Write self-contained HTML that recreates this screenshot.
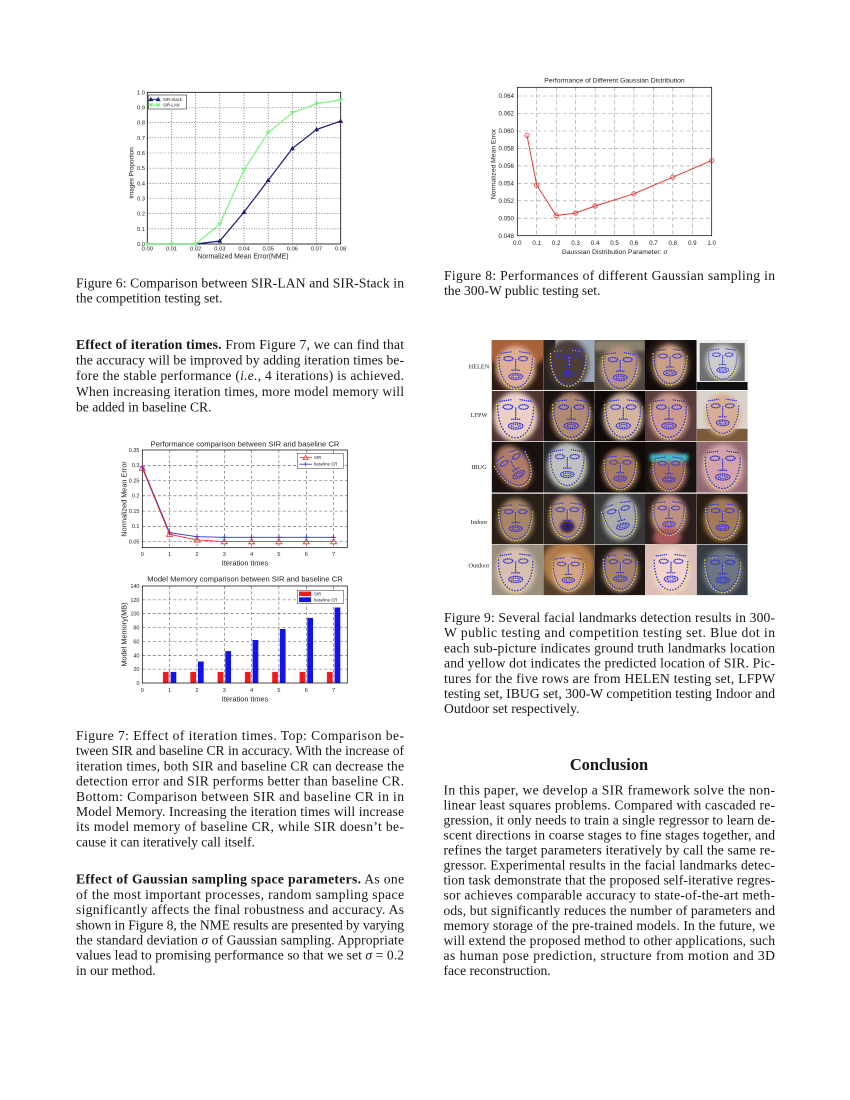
<!DOCTYPE html>
<html><head><meta charset="utf-8">
<style>
html,body{margin:0;padding:0;background:#fff;}
body{width:850px;height:1100px;overflow:hidden;position:relative;}
svg.page{position:absolute;left:0;top:0;}
.t{font-family:"Liberation Serif",serif;font-size:13.6px;fill:#161616;}
.s{font-family:"Liberation Sans",sans-serif;fill:#222;}
.rl{font-family:"Liberation Serif",serif;font-size:6.3px;fill:#222;}
</style></head><body>
<svg class="page" width="850" height="1100" viewBox="0 0 850 1100">
<defs>
  <path id="tu" d="M0,-2.6 L2.5,1.8 L-2.5,1.8Z"/>
  <path id="td" d="M0,2.6 L2.5,-1.8 L-2.5,-1.8Z"/>
  <filter id="bl" x="-60%" y="-60%" width="220%" height="220%"><feGaussianBlur stdDeviation="2.4"/></filter>
  <filter id="bl2" x="-60%" y="-60%" width="220%" height="220%"><feGaussianBlur stdDeviation="1.6"/></filter>
  <g id="lm" fill="none" stroke-linecap="round">
    <path d="M-17,-9 C-17,12 -9,22 0,22 C9,22 17,12 17,-9" stroke="#e6e040" stroke-width="1.4" stroke-dasharray="0.1 2.8"/>
    <path d="M-16,-8 C-16,11 -8,20.5 0,20.5 C8,20.5 16,11 16,-8" stroke="#3030d8" stroke-width="1.4" stroke-dasharray="0.1 2.6"/>
    <path d="M-14,-12 L-4,-13.5 M4,-13.5 L14,-12" stroke="#3030d8" stroke-width="1.3" stroke-dasharray="0.1 1.8"/>
    <ellipse cx="-7" cy="-7" rx="4.3" ry="2" stroke="#3030d8" stroke-width="1.3" stroke-dasharray="0.1 1.5"/>
    <ellipse cx="7" cy="-7" rx="4.3" ry="2" stroke="#3030d8" stroke-width="1.3" stroke-dasharray="0.1 1.5"/>
    <path d="M0,-6 V3 M-3.5,4 H3.5" stroke="#3030d8" stroke-width="1.3" stroke-dasharray="0.1 1.6"/>
    <ellipse cx="0" cy="10" rx="6.5" ry="2.8" stroke="#3030d8" stroke-width="1.3" stroke-dasharray="0.1 1.5"/>
    <ellipse cx="0" cy="10" rx="4" ry="1.2" stroke="#3030d8" stroke-width="1.1" stroke-dasharray="0.1 1.5"/>
    <path d="M-13,-11 L-4,-12 M4,-12 L13,-11" stroke="#e6e040" stroke-width="1" stroke-dasharray="0.1 3"/>
    <path d="M1,-5 V2" stroke="#e6e040" stroke-width="1" stroke-dasharray="0.1 3"/>
  </g>
</defs>

<!-- ============ FIGURE 6 ============ -->
<g stroke="#444" stroke-width="0.6" stroke-dasharray="1,1.6">
  <path d="M171.5,92.3V244M195.7,92.3V244M219.8,92.3V244M244,92.3V244M268.2,92.3V244M292.4,92.3V244M316.5,92.3V244"/>
  <path d="M147.3,228.8H340.7M147.3,213.7H340.7M147.3,198.5H340.7M147.3,183.3H340.7M147.3,168.2H340.7M147.3,153H340.7M147.3,137.8H340.7M147.3,122.6H340.7M147.3,107.5H340.7"/>
</g>
<rect x="147.3" y="92.3" width="193.4" height="151.7" fill="none" stroke="#000" stroke-width="0.8"/>
<polyline fill="none" stroke="#1b1b78" stroke-width="1.2" points="147.3,244 171.5,244 195.7,244 219.8,241 244,212.1 268.2,180.3 292.4,148.4 316.5,129.5 340.7,121.1"/>
<g fill="#1b1b78">
  <use href="#tu" x="219.8" y="241"/><use href="#tu" x="244" y="212.1"/><use href="#tu" x="268.2" y="180.3"/><use href="#tu" x="292.4" y="148.4"/><use href="#tu" x="316.5" y="129.5"/><use href="#tu" x="340.7" y="121.1"/>
</g>
<polyline fill="none" stroke="#7ff07f" stroke-width="1.2" points="147.3,244 171.5,244 195.7,244 219.8,224.3 244,169.7 268.2,132.5 292.4,112.8 316.5,103.7 340.7,99.9"/>
<g fill="#7ff07f">
  <use href="#td" x="147.3" y="244"/><use href="#td" x="171.5" y="244"/><use href="#td" x="195.7" y="244"/><use href="#td" x="219.8" y="224.3"/><use href="#td" x="244" y="169.7"/><use href="#td" x="268.2" y="132.5"/><use href="#td" x="292.4" y="112.8"/><use href="#td" x="316.5" y="103.7"/><use href="#td" x="340.7" y="99.9"/>
</g>
<g class="s" font-size="5.8" text-anchor="end">
  <text x="145" y="246">0.0</text><text x="145" y="230.8">0.1</text><text x="145" y="215.7">0.2</text><text x="145" y="200.5">0.3</text><text x="145" y="185.3">0.4</text><text x="145" y="170.2">0.5</text><text x="145" y="155">0.6</text><text x="145" y="139.8">0.7</text><text x="145" y="124.6">0.8</text><text x="145" y="109.5">0.9</text><text x="145" y="94.3">1.0</text>
</g>
<g class="s" font-size="5.8" text-anchor="middle">
  <text x="147.3" y="250.5">0.00</text><text x="171.5" y="250.5">0.01</text><text x="195.7" y="250.5">0.02</text><text x="219.8" y="250.5">0.03</text><text x="244" y="250.5">0.04</text><text x="268.2" y="250.5">0.05</text><text x="292.4" y="250.5">0.06</text><text x="316.5" y="250.5">0.07</text><text x="340.7" y="250.5">0.08</text>
</g>
<text class="s" font-size="6.9" x="243" y="258.5" text-anchor="middle">Normalized Mean Error(NME)</text>
<text class="s" font-size="6.3" text-anchor="middle" transform="translate(133.5,173) rotate(-90)">Images Proportion</text>
<rect x="148.3" y="95" width="38.4" height="14" fill="#fff" stroke="#000" stroke-width="0.5"/>
<line x1="150.5" y1="99.3" x2="158.5" y2="99.3" stroke="#1b1b78" stroke-width="1"/>
<g fill="#1b1b78"><use href="#tu" x="150.8" y="99.3"/><use href="#tu" x="158.2" y="99.3"/></g>
<line x1="150.5" y1="105.2" x2="158.5" y2="105.2" stroke="#7ff07f" stroke-width="1"/>
<g fill="#7ff07f"><use href="#td" x="150.8" y="105.2"/><use href="#td" x="158.2" y="105.2"/></g>
<text class="s" font-size="4.2" x="163" y="100.8">SIR-Stack</text>
<text class="s" font-size="4.2" x="163" y="106.7">SIR-LAN</text>

<!-- ============ FIGURE 8 ============ -->
<g stroke="#9a9a9a" stroke-width="0.6" stroke-dasharray="4,2.5">
  <path d="M536.7,87.3V235.7M556.2,87.3V235.7M575.6,87.3V235.7M595.1,87.3V235.7M614.5,87.3V235.7M633.9,87.3V235.7M653.4,87.3V235.7M672.8,87.3V235.7M692.3,87.3V235.7"/>
  <path d="M517.3,218.2H711.7M517.3,200.8H711.7M517.3,183.3H711.7M517.3,165.9H711.7M517.3,148.4H711.7M517.3,131H711.7M517.3,113.5H711.7M517.3,96H711.7"/>
</g>
<rect x="517.3" y="87.3" width="194.4" height="148.4" fill="none" stroke="#000" stroke-width="0.7"/>
<text class="s" font-size="6.8" x="614.5" y="82.5" text-anchor="middle">Performance of Different Gaussian Distribution</text>
<g class="s" font-size="6.2" text-anchor="end">
  <text x="514" y="237.8">0.048</text><text x="514" y="220.3">0.050</text><text x="514" y="202.9">0.052</text><text x="514" y="185.4">0.054</text><text x="514" y="168">0.056</text><text x="514" y="150.5">0.058</text><text x="514" y="133.1">0.060</text><text x="514" y="115.6">0.062</text><text x="514" y="98.1">0.064</text>
</g>
<g class="s" font-size="6.2" text-anchor="middle">
  <text x="517.3" y="245">0.0</text><text x="536.7" y="245">0.1</text><text x="556.2" y="245">0.2</text><text x="575.6" y="245">0.3</text><text x="595.1" y="245">0.4</text><text x="614.5" y="245">0.5</text><text x="633.9" y="245">0.6</text><text x="653.4" y="245">0.7</text><text x="672.8" y="245">0.8</text><text x="692.3" y="245">0.9</text><text x="711.7" y="245">1.0</text>
</g>
<text class="s" font-size="6.8" x="614.5" y="254" text-anchor="middle">Gaussian Distribution Parameter: <tspan font-style="italic">σ</tspan></text>
<text class="s" font-size="6.8" text-anchor="middle" transform="translate(495.5,164) rotate(-90)">Normalized Mean Error</text>
<polyline fill="none" stroke="#e03a3a" stroke-width="1" points="527,135.3 536.7,185.1 556.2,215.6 575.6,213 595.1,206 633.9,193.8 672.8,177.2 711.7,160.6"/>
<g fill="none" stroke="#e03a3a" stroke-width="0.8">
  <circle cx="527" cy="135.3" r="2.2"/><circle cx="536.7" cy="185.1" r="2.2"/><circle cx="556.2" cy="215.6" r="2.2"/><circle cx="575.6" cy="213" r="2.2"/><circle cx="595.1" cy="206" r="2.2"/><circle cx="633.9" cy="193.8" r="2.2"/><circle cx="672.8" cy="177.2" r="2.2"/><circle cx="711.7" cy="160.6" r="2.2"/>
</g>

<!-- ============ FIGURE 7 TOP ============ -->
<g stroke="#555" stroke-width="0.55" stroke-dasharray="3,2.2">
  <path d="M169.6,450V547.7M197,450V547.7M224.3,450V547.7M251.6,450V547.7M278.9,450V547.7M306.3,450V547.7M333.6,450V547.7"/>
  <path d="M142.3,541.6H347.3M142.3,526.3H347.3M142.3,511.1H347.3M142.3,495.8H347.3M142.3,480.5H347.3M142.3,465.3H347.3"/>
</g>
<rect x="142.3" y="450" width="205" height="97.7" fill="none" stroke="#000" stroke-width="0.7"/>
<text class="s" font-size="7.6" x="245" y="446.3" text-anchor="middle">Performance comparison between SIR and baseline CR</text>
<g class="s" font-size="5.5" text-anchor="end">
  <text x="139.5" y="543.5">0.05</text><text x="139.5" y="528.2">0.1</text><text x="139.5" y="513">0.15</text><text x="139.5" y="497.7">0.2</text><text x="139.5" y="482.4">0.25</text><text x="139.5" y="467.2">0.3</text><text x="139.5" y="452">0.35</text>
</g>
<g class="s" font-size="5.5" text-anchor="middle">
  <text x="142.3" y="556">0</text><text x="169.6" y="556">1</text><text x="197" y="556">2</text><text x="224.3" y="556">3</text><text x="251.6" y="556">4</text><text x="278.9" y="556">5</text><text x="306.3" y="556">6</text><text x="333.6" y="556">7</text>
</g>
<text class="s" font-size="7.4" x="245" y="565.5" text-anchor="middle">Iteration times</text>
<text class="s" font-size="7.3" text-anchor="middle" transform="translate(126.5,499) rotate(-90)">Normalized Mean Error</text>
<polyline fill="none" stroke="#2a2ae0" stroke-width="0.9" points="142.3,466.8 169.6,532.7 197,536.7 224.3,537.3 251.6,537.3 278.9,537.3 306.3,537.3 333.6,537.3"/>
<polyline fill="none" stroke="#f03030" stroke-width="0.9" points="142.3,468.3 169.6,534.3 197,539.9 224.3,541.6 251.6,541.6 278.9,541.6 306.3,541.6 333.6,541.6"/>
<g fill="none" stroke="#2a2ae0" stroke-width="0.8">
  <path d="M139.8,466.8h5M142.3,464.3v5 M167.1,532.7h5M169.6,530.2v5 M194.5,536.7h5M197,534.2v5 M221.8,537.3h5M224.3,534.8v5 M249.1,537.3h5M251.6,534.8v5 M276.4,537.3h5M278.9,534.8v5 M303.8,537.3h5M306.3,534.8v5 M331.1,537.3h5M333.6,534.8v5"/>
</g>
<g fill="none" stroke="#f03030" stroke-width="0.8">
  <path d="M142.3,465.3l3,5.2h-6z M169.6,531.3l3,5.2h-6z M197,536.9l3,5.2h-6z M224.3,538.6l3,5.2h-6z M251.6,538.6l3,5.2h-6z M278.9,538.6l3,5.2h-6z M306.3,538.6l3,5.2h-6z M333.6,538.6l3,5.2h-6z"/>
</g>
<rect x="297.3" y="453.3" width="46" height="15" fill="#fff" stroke="#333" stroke-width="0.5"/>
<line x1="299.5" y1="457.7" x2="312" y2="457.7" stroke="#f03030" stroke-width="0.8"/>
<path d="M305.7,455.2l2.6,4.4h-5.2z" fill="none" stroke="#f03030" stroke-width="0.7"/>
<line x1="299.5" y1="464.2" x2="312" y2="464.2" stroke="#2a2ae0" stroke-width="0.8"/>
<path d="M303.5,464.2h4.4M305.7,462v4.4" stroke="#2a2ae0" stroke-width="0.7"/>
<text class="s" font-size="4.3" x="314" y="459.2">SIR</text>
<text class="s" font-size="4.3" x="314" y="465.7">baseline CR</text>

<!-- ============ FIGURE 7 BOTTOM ============ -->
<g stroke="#555" stroke-width="0.55" stroke-dasharray="3,2.2">
  <path d="M169.6,586V683M197,586V683M224.3,586V683M251.6,586V683M278.9,586V683M306.3,586V683M333.6,586V683"/>
  <path d="M142.3,669.1H347.3M142.3,655.3H347.3M142.3,641.4H347.3M142.3,627.6H347.3M142.3,613.7H347.3M142.3,599.9H347.3"/>
</g>
<g fill="#ee1c1c">
  <rect x="162.9" y="671.9" width="5.7" height="11.1"/><rect x="190.3" y="671.9" width="5.7" height="11.1"/><rect x="217.6" y="671.9" width="5.7" height="11.1"/><rect x="244.9" y="671.9" width="5.7" height="11.1"/><rect x="272.2" y="671.9" width="5.7" height="11.1"/><rect x="299.6" y="671.9" width="5.7" height="11.1"/><rect x="326.9" y="671.9" width="5.7" height="11.1"/>
</g>
<g fill="#1414e6">
  <rect x="170.6" y="671.9" width="5.7" height="11.1"/><rect x="198" y="661.5" width="5.7" height="21.5"/><rect x="225.3" y="651.1" width="5.7" height="31.9"/><rect x="252.6" y="640" width="5.7" height="43"/><rect x="279.9" y="629" width="5.7" height="54"/><rect x="307.3" y="617.9" width="5.7" height="65.1"/><rect x="334.6" y="607.5" width="5.7" height="75.5"/>
</g>
<rect x="142.3" y="586" width="205" height="97" fill="none" stroke="#000" stroke-width="0.7"/>
<text class="s" font-size="7.6" x="245" y="581.5" text-anchor="middle">Model Memory comparison between SIR and baseline CR</text>
<g class="s" font-size="5.5" text-anchor="end">
  <text x="139.5" y="685">0</text><text x="139.5" y="671.1">20</text><text x="139.5" y="657.3">40</text><text x="139.5" y="643.4">60</text><text x="139.5" y="629.6">80</text><text x="139.5" y="615.7">100</text><text x="139.5" y="601.9">120</text><text x="139.5" y="588">140</text>
</g>
<g class="s" font-size="5.5" text-anchor="middle">
  <text x="142.3" y="692">0</text><text x="169.6" y="692">1</text><text x="197" y="692">2</text><text x="224.3" y="692">3</text><text x="251.6" y="692">4</text><text x="278.9" y="692">5</text><text x="306.3" y="692">6</text><text x="333.6" y="692">7</text>
</g>
<text class="s" font-size="7.4" x="245" y="701.5" text-anchor="middle">Iteration times</text>
<text class="s" font-size="7.3" text-anchor="middle" transform="translate(126.5,634.5) rotate(-90)">Model Memory(MB)</text>
<rect x="297.3" y="590.3" width="46" height="13.4" fill="#fff" stroke="#333" stroke-width="0.5"/>
<rect x="299" y="591.5" width="12" height="4.6" fill="#ee1c1c"/>
<rect x="299" y="597.3" width="12" height="4.8" fill="#1414e6"/>
<text class="s" font-size="4.3" x="314" y="595.5">SIR</text>
<text class="s" font-size="4.3" x="314" y="601.6">baseline CR</text>

<!-- ============ FIGURE 9 FACES ============ -->
<g>
<!-- Row 1 -->
<svg x="491.7" y="340" width="51.6" height="50">
  <rect width="100%" height="100%" fill="#2e1a12"/>
  <ellipse cx="25" cy="6" rx="34" ry="22" fill="#a8623a" filter="url(#bl)"/>
  <ellipse cx="24" cy="28" rx="20" ry="22" fill="#deae96" filter="url(#bl)"/>
  <use href="#lm" transform="translate(24,26) scale(1.05)"/>
</svg>
<svg x="543.3" y="340" width="51" height="50">
  <rect width="100%" height="100%" fill="#9aaabb"/>
  <rect width="12" height="50" fill="#2a2220"/>
  <rect y="42" width="51" height="8" fill="#2a2420"/>
  <ellipse cx="25" cy="24" rx="20" ry="25" fill="#4e3c36" filter="url(#bl)"/>
  <use href="#lm" transform="translate(25,23) scale(1.05)"/>
</svg>
<svg x="594.3" y="340" width="50.7" height="50">
  <rect width="100%" height="100%" fill="#4e463e"/>
  <rect width="51" height="11" fill="#8a8070" filter="url(#bl2)"/>
  <ellipse cx="26" cy="28" rx="20" ry="22" fill="#b89480" filter="url(#bl)"/>
  <use href="#lm" transform="translate(26,27) scale(1.05)"/>
</svg>
<svg x="645" y="340" width="51.7" height="50">
  <rect width="100%" height="100%" fill="#100c0c"/>
  <ellipse cx="25" cy="22" rx="22" ry="27" fill="#2a1e18" filter="url(#bl)"/>
  <ellipse cx="25" cy="25" rx="17" ry="21" fill="#caa088" filter="url(#bl)"/>
  <use href="#lm" transform="translate(25,23) scale(1)"/>
</svg>
<svg x="696.7" y="340" width="51" height="50">
  <rect width="100%" height="100%" fill="#eeeeee"/>
  <rect x="3" y="3" width="45" height="38" fill="#6e6e6e"/>
  <ellipse cx="26" cy="22" rx="17" ry="18" fill="#cccccc" filter="url(#bl)"/>
  <rect y="42" width="51" height="8" fill="#111"/>
  <use href="#lm" transform="translate(26,21) scale(0.9)"/>
</svg>
<!-- Row 2 -->
<svg x="491.7" y="390.8" width="51.6" height="50.6">
  <rect width="100%" height="100%" fill="#4e3230"/>
  <ellipse cx="24" cy="26" rx="22" ry="25" fill="#ecd0c8" filter="url(#bl)"/>
  <use href="#lm" transform="translate(24,24) scale(1.12)"/>
</svg>
<svg x="543.3" y="390.8" width="51" height="50.6">
  <rect width="100%" height="100%" fill="#1a1210"/>
  <ellipse cx="28" cy="26" rx="20" ry="24" fill="#b08a72" filter="url(#bl)"/>
  <use href="#lm" transform="translate(28,24) scale(1.1)"/>
</svg>
<svg x="594.3" y="390.8" width="50.7" height="50.6">
  <rect width="100%" height="100%" fill="#0e0a0a"/>
  <ellipse cx="29" cy="26" rx="20" ry="24" fill="#d2b4a0" filter="url(#bl)"/>
  <use href="#lm" transform="translate(29,24) scale(1.1)"/>
</svg>
<svg x="645" y="390.8" width="51.7" height="50.6">
  <rect width="100%" height="100%" fill="#5a3c3c"/>
  <ellipse cx="24" cy="26" rx="20" ry="24" fill="#cc9a8e" filter="url(#bl)"/>
  <use href="#lm" transform="translate(24,24) scale(1.1)"/>
</svg>
<svg x="696.7" y="390.8" width="51" height="50.6">
  <rect width="100%" height="100%" fill="#d8d4cc"/>
  <rect y="38" width="51" height="13" fill="#7a5a38"/>
  <ellipse cx="26" cy="24" rx="18" ry="21" fill="#d8ae96" filter="url(#bl)"/>
  <use href="#lm" transform="translate(26,22) scale(1)"/>
</svg>
<!-- Row 3 -->
<svg x="491.7" y="442" width="51.6" height="50.6">
  <rect width="100%" height="100%" fill="#1a1210"/>
  <ellipse cx="22" cy="25" rx="16" ry="23" fill="#b07c68" transform="rotate(-30 22 25)" filter="url(#bl)"/>
  <use href="#lm" transform="translate(22,24) rotate(-30) scale(1)"/>
</svg>
<svg x="543.3" y="442" width="51" height="50.6">
  <rect width="100%" height="100%" fill="#262626"/>
  <ellipse cx="24" cy="24" rx="20" ry="23" fill="#c0c0c0" filter="url(#bl)"/>
  <use href="#lm" transform="translate(24,22) scale(1.05)"/>
</svg>
<svg x="594.3" y="442" width="50.7" height="50.6">
  <rect width="100%" height="100%" fill="#100b09"/>
  <ellipse cx="26" cy="28" rx="18" ry="21" fill="#a87c60" filter="url(#bl)"/>
  <use href="#lm" transform="translate(26,27) scale(0.95)"/>
</svg>
<svg x="645" y="442" width="51.7" height="50.6">
  <rect width="100%" height="100%" fill="#181210"/>
  <ellipse cx="24" cy="30" rx="18" ry="21" fill="#a87262" filter="url(#bl)"/>
  <rect x="5" y="12" width="38" height="7" fill="#40b8c8" filter="url(#bl2)"/>
  <use href="#lm" transform="translate(24,28) scale(0.95)"/>
</svg>
<svg x="696.7" y="442" width="51" height="50.6">
  <rect width="100%" height="100%" fill="#946a72"/>
  <ellipse cx="26" cy="26" rx="21" ry="24" fill="#d4a4aa" filter="url(#bl)"/>
  <use href="#lm" transform="translate(26,24) scale(1.1)"/>
</svg>
<!-- Row 4 -->
<svg x="491.7" y="493.6" width="51.6" height="50.6">
  <rect width="100%" height="100%" fill="#282016"/>
  <ellipse cx="24" cy="27" rx="18" ry="22" fill="#a88468" filter="url(#bl)"/>
  <use href="#lm" transform="translate(24,25) scale(1)"/>
</svg>
<svg x="543.3" y="493.6" width="51" height="50.6">
  <rect width="100%" height="100%" fill="#2a201c"/>
  <ellipse cx="24" cy="24" rx="18" ry="23" fill="#b4927e" filter="url(#bl)"/>
  <ellipse cx="24" cy="33" rx="7" ry="6" fill="#301818" filter="url(#bl2)"/>
  <use href="#lm" transform="translate(24,23) scale(1)"/>
</svg>
<svg x="594.3" y="493.6" width="50.7" height="50.6">
  <rect width="100%" height="100%" fill="#383838"/>
  <ellipse cx="26" cy="24" rx="18" ry="23" fill="#aaaaaa" filter="url(#bl)"/>
  <use href="#lm" transform="translate(26,23) rotate(-15) scale(1)"/>
</svg>
<svg x="645" y="493.6" width="51.7" height="50.6">
  <rect width="100%" height="100%" fill="#2a1e1e"/>
  <ellipse cx="24" cy="22" rx="18" ry="21" fill="#c09080" filter="url(#bl)"/>
  <ellipse cx="22" cy="44" rx="14" ry="10" fill="#a85858" filter="url(#bl)"/>
  <use href="#lm" transform="translate(24,21) scale(0.95)"/>
</svg>
<svg x="696.7" y="493.6" width="51" height="50.6">
  <rect width="100%" height="100%" fill="#281c12"/>
  <ellipse cx="26" cy="26" rx="19" ry="22" fill="#a47a5a" filter="url(#bl)"/>
  <use href="#lm" transform="translate(26,24) scale(1)"/>
</svg>
<!-- Row 5 -->
<svg x="491.7" y="544.6" width="51.6" height="50.6">
  <rect width="100%" height="100%" fill="#9a8e7e"/>
  <ellipse cx="24" cy="26" rx="20" ry="24" fill="#d8c0b0" filter="url(#bl)"/>
  <use href="#lm" transform="translate(24,24) scale(1.08)"/>
</svg>
<svg x="543.3" y="544.6" width="51" height="50.6">
  <rect width="100%" height="100%" fill="#56402c"/>
  <ellipse cx="25" cy="20" rx="26" ry="24" fill="#b07a48" filter="url(#bl)"/>
  <ellipse cx="25" cy="28" rx="16" ry="20" fill="#d4a684" filter="url(#bl)"/>
  <use href="#lm" transform="translate(25,26) scale(0.95)"/>
</svg>
<svg x="594.3" y="544.6" width="50.7" height="50.6">
  <rect width="100%" height="100%" fill="#1e1612"/>
  <ellipse cx="26" cy="26" rx="18" ry="22" fill="#a88470" filter="url(#bl)"/>
  <use href="#lm" transform="translate(26,24) scale(1)"/>
</svg>
<svg x="645" y="544.6" width="51.7" height="50.6">
  <rect width="100%" height="100%" fill="#dcc0b8"/>
  <ellipse cx="26" cy="26" rx="19" ry="23" fill="#f2d4cc" filter="url(#bl)"/>
  <use href="#lm" transform="translate(26,24) scale(1.05)"/>
</svg>
<svg x="696.7" y="544.6" width="51" height="50.6">
  <rect width="100%" height="100%" fill="#363c44"/>
  <ellipse cx="26" cy="27" rx="20" ry="23" fill="#6e7480" filter="url(#bl)"/>
  <use href="#lm" transform="translate(26,25) scale(1.05)"/>
</svg>
</g>
<g class="rl" text-anchor="middle">
  <text x="479" y="368.5">HELEN</text>
  <text x="479" y="417">LFPW</text>
  <text x="479" y="469">IBUG</text>
  <text x="479" y="524">Indoor</text>
  <text x="479" y="567.5">Outdoor</text>
</g>

<!-- ============ LEFT COLUMN TEXT ============ -->
<g class="t">
<text x="76" y="287.5" textLength="328" lengthAdjust="spacing">Figure 6: Comparison between SIR-LAN and SIR-Stack in</text>
<text x="76" y="302.5">the competition testing set.</text>

<text x="76" y="349" textLength="328" lengthAdjust="spacing"><tspan font-weight="bold">Effect of iteration times.</tspan> From Figure 7, we can find that</text>
<text x="76" y="364.6" textLength="328" lengthAdjust="spacing">the accuracy will be improved by adding iteration times be-</text>
<text x="76" y="380.2" textLength="328" lengthAdjust="spacing">fore the stable performance (<tspan font-style="italic">i.e.</tspan>, 4 iterations) is achieved.</text>
<text x="76" y="395.8" textLength="328" lengthAdjust="spacing">When increasing iteration times, more model memory will</text>
<text x="76" y="411.4">be added in baseline CR.</text>

<text x="76" y="740" textLength="328" lengthAdjust="spacing">Figure 7: Effect of iteration times. Top: Comparison be-</text>
<text x="76" y="755.2" textLength="328" lengthAdjust="spacing">tween SIR and baseline CR in accuracy. With the increase of</text>
<text x="76" y="770.4" textLength="328" lengthAdjust="spacing">iteration times, both SIR and baseline CR can decrease the</text>
<text x="76" y="785.6" textLength="328" lengthAdjust="spacing">detection error and SIR performs better than baseline CR.</text>
<text x="76" y="800.8" textLength="328" lengthAdjust="spacing">Bottom: Comparison between SIR and baseline CR in in</text>
<text x="76" y="816" textLength="328" lengthAdjust="spacing">Model Memory. Increasing the iteration times will increase</text>
<text x="76" y="831.2" textLength="328" lengthAdjust="spacing">its model memory of baseline CR, while SIR doesn’t be-</text>
<text x="76" y="846.4">cause it can iteratively call itself.</text>

<text x="76" y="883.7" textLength="328" lengthAdjust="spacing"><tspan font-weight="bold">Effect of Gaussian sampling space parameters.</tspan> As one</text>
<text x="76" y="898.9" textLength="328" lengthAdjust="spacing">of the most important processes, random sampling space</text>
<text x="76" y="914.1" textLength="328" lengthAdjust="spacing">significantly affects the final robustness and accuracy. As</text>
<text x="76" y="929.3" textLength="328" lengthAdjust="spacing">shown in Figure 8, the NME results are presented by varying</text>
<text x="76" y="944.5" textLength="328" lengthAdjust="spacing">the standard deviation <tspan font-style="italic">σ</tspan> of Gaussian sampling. Appropriate</text>
<text x="76" y="959.7" textLength="328" lengthAdjust="spacing">values lead to promising performance so that we set <tspan font-style="italic">σ</tspan> = 0.2</text>
<text x="76" y="974.9">in our method.</text>
</g>

<!-- ============ RIGHT COLUMN TEXT ============ -->
<g class="t">
<text x="444" y="280" textLength="331" lengthAdjust="spacing">Figure 8: Performances of different Gaussian sampling in</text>
<text x="444" y="295">the 300-W public testing set.</text>

<text x="444" y="622" textLength="331" lengthAdjust="spacing">Figure 9: Several facial landmarks detection results in 300-</text>
<text x="444" y="637.2" textLength="331" lengthAdjust="spacing">W public testing and competition testing set. Blue dot in</text>
<text x="444" y="652.4" textLength="331" lengthAdjust="spacing">each sub-picture indicates ground truth landmarks location</text>
<text x="444" y="667.6" textLength="331" lengthAdjust="spacing">and yellow dot indicates the predicted location of SIR. Pic-</text>
<text x="444" y="682.8" textLength="331" lengthAdjust="spacing">tures for the five rows are from HELEN testing set, LFPW</text>
<text x="444" y="698" textLength="331" lengthAdjust="spacing">testing set, IBUG set, 300-W competition testing Indoor and</text>
<text x="444" y="713.2">Outdoor set respectively.</text>

<text x="609" y="770" font-size="16.4" font-weight="bold" text-anchor="middle">Conclusion</text>

<text x="443.5" y="794.3" textLength="331.5" lengthAdjust="spacing">In this paper, we develop a SIR framework solve the non-</text>
<text x="443.5" y="809.4" textLength="331.5" lengthAdjust="spacing">linear least squares problems. Compared with cascaded re-</text>
<text x="443.5" y="824.4" textLength="331.5" lengthAdjust="spacing">gression, it only needs to train a single regressor to learn de-</text>
<text x="443.5" y="839.5" textLength="331.5" lengthAdjust="spacing">scent directions in coarse stages to fine stages together, and</text>
<text x="443.5" y="854.5" textLength="331.5" lengthAdjust="spacing">refines the target parameters iteratively by call the same re-</text>
<text x="443.5" y="869.6" textLength="331.5" lengthAdjust="spacing">gressor. Experimental results in the facial landmarks detec-</text>
<text x="443.5" y="884.7" textLength="331.5" lengthAdjust="spacing">tion task demonstrate that the proposed self-iterative regres-</text>
<text x="443.5" y="899.7" textLength="331.5" lengthAdjust="spacing">sor achieves comparable accuracy to state-of-the-art meth-</text>
<text x="443.5" y="914.8" textLength="331.5" lengthAdjust="spacing">ods, but significantly reduces the number of parameters and</text>
<text x="443.5" y="929.8" textLength="331.5" lengthAdjust="spacing">memory storage of the pre-trained models. In the future, we</text>
<text x="443.5" y="944.9" textLength="331.5" lengthAdjust="spacing">will extend the proposed method to other applications, such</text>
<text x="443.5" y="959.9" textLength="331.5" lengthAdjust="spacing">as human pose prediction, structure from motion and 3D</text>
<text x="443.5" y="975">face reconstruction.</text>
</g>
</svg>
</body></html>
